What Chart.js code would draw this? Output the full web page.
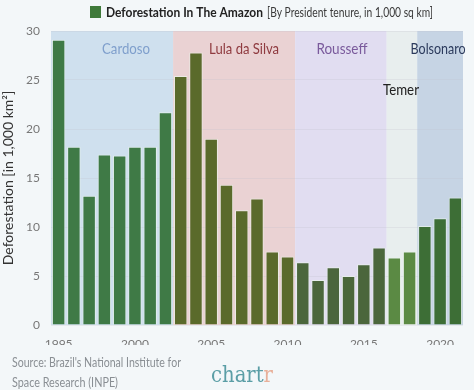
<!DOCTYPE html>
<html><head><meta charset="utf-8">
<script src="https://cdn.jsdelivr.net/npm/chart.js@4/dist/chart.umd.min.js"></script>
<style>html,body{margin:0;padding:0;background:#f3f7f9;}#w{width:474px;height:390px;position:relative;}</style>
</head><body><div id="w"><canvas id="c" width="474" height="390"></canvas></div>
<script>
const years = [1995,1996,1997,1998,1999,2000,2001,2002,2003,2004,2005,2006,2007,2008,2009,2010,2011,2012,2013,2014,2015,2016,2017,2018,2019,2020,2021];
const deforestation = [29.1,18.2,13.2,17.4,17.3,18.2,18.2,21.7,25.4,27.8,19.0,14.3,11.7,12.9,7.5,7.0,6.4,4.6,5.9,5.0,6.2,7.9,6.9,7.5,10.1,10.9,13.0];
const presidents = ["Cardoso","Lula da Silva","Rousseff","Temer","Bolsonaro"];
const termStart = [1995,2003,2011,2017,2019];
const termEnd = [2002,2010,2016,2018,2021];
const yTicks = [0,5,10,15,20,25,30];

const barColors = {"Cardoso":"#3f7a46","Lula da Silva":"#5a6a2b","Rousseff":"#4b663c","Temer":"#5b8a44","Bolsonaro":"#3d6e36"};
const bandColors = {"Cardoso":"#cfe0ee","Lula da Silva":"#ead2d3","Rousseff":"#e1ddf1","Temer":"#e8eeee","Bolsonaro":"#c6d4e4"};
const labelColors = {"Cardoso":"#7f9fcc","Lula da Silva":"#8f3a3f","Rousseff":"#7a5a9c","Temer":"#222222","Bolsonaro":"#2b3a5c"};
// label layout: [pixel offset from band centre, y value, target width]
const labelLayout = {"Cardoso":[14,28.2,48],"Lula da Silva":[10,28.2,70],"Rousseff":[1,28.2,51],"Temer":[-1,24.0,36],"Bolsonaro":[-2,28.2,55]};

function presidentOf(y){for(let i=0;i<presidents.length;i++){if(y>=termStart[i]&&y<=termEnd[i])return presidents[i];}return presidents[0];}

function fitText(ctx, text, x, y, font, width, align){
  ctx.save();
  ctx.font = font;
  const w = ctx.measureText(text).width;
  const s = width / w;
  let x0 = x;
  if(align==='center') x0 = x - width/2;
  ctx.textAlign='left';
  ctx.translate(x0, y);
  ctx.scale(s, 1);
  ctx.fillText(text, 0, 0);
  ctx.restore();
}

const bandPlugin = {
  id:'bands',
  beforeDraw(chart){
    const {ctx, scales:{x,y}} = chart;
    ctx.save();
    ctx.fillStyle='#f3f7f9';ctx.fillRect(0,0,chart.width,chart.height);
    const step = x.getPixelForValue(1)-x.getPixelForValue(0);
    presidents.forEach((p,i)=>{
      const x0 = x.getPixelForValue(years.indexOf(termStart[i]))-step/2;
      const x1 = x.getPixelForValue(years.indexOf(termEnd[i]))+step/2;
      const top = y.getPixelForValue(30), bot = y.getPixelForValue(0);
      ctx.fillStyle = bandColors[p];
      ctx.fillRect(x0, top, x1-x0, bot-top);
    });
    ctx.restore();
  },
  afterDatasetsDraw(chart){
    const {ctx, scales:{x,y}} = chart;
    ctx.save();
    ctx.textBaseline='middle';
    presidents.forEach((p,i)=>{
      const cx = (x.getPixelForValue(years.indexOf(termStart[i]))+x.getPixelForValue(years.indexOf(termEnd[i])))/2;
      const L = labelLayout[p];
      ctx.fillStyle = labelColors[p];
      fitText(ctx, p, cx+L[0], y.getPixelForValue(L[1]), '16px Lato', L[2], 'center');
    });
    // header legend
    ctx.fillStyle='#3f7a3a';ctx.fillRect(90,6,11,12);
    ctx.fillStyle='#222';
    fitText(ctx,'Deforestation In The Amazon',106,12,'bold 14px Lato',157,'left');
    ctx.fillStyle='#3a3a3a';
    fitText(ctx,'[By President tenure, in 1,000 sq km]',267,12.5,'13px Lato',166,'left');
    // source
    ctx.fillStyle='#8a8f94';
    fitText(ctx,"Source: Brazil's National Institute for",12,363,'13px Lato',169,'left');
    fitText(ctx,"Space Research (INPE)",12,383,'13px Lato',106,'left');
    ctx.font='23px "DejaVu Serif"';
    const tw = ctx.measureText('chartr').width, sc = 62/tw;
    ctx.save();
    ctx.translate(211,376);ctx.scale(sc,1);
    ctx.textAlign='left';
    ctx.fillStyle='#5b9ea6';
    ctx.fillText('chart',0,0);
    const cw = ctx.measureText('chart').width;
    ctx.fillStyle='#e8b09a';
    ctx.fillText('r',cw,0);
    ctx.restore();
    ctx.restore();
  }
};

new Chart(document.getElementById('c'),{
  type:'bar',
  data:{labels:years,datasets:[{
    label:'Deforestation In The Amazon',
    data:deforestation,
    backgroundColor:years.map(y=>barColors[presidentOf(y)]),
    borderColor:'rgba(235,245,235,0.7)',
    borderWidth:1,
    barPercentage:0.88,categoryPercentage:1
  }]},
  options:{
    responsive:false,animation:false,
    layout:{padding:{left:0,right:11,top:31,bottom:45}},
    plugins:{legend:{display:false},tooltip:{enabled:false}},
    scales:{
      x:{
        grid:{display:false},border:{display:false},
        ticks:{color:'#777',font:{family:'Lato',size:12},maxRotation:0,autoSkip:false,padding:4,
          callback:function(v,i){const yr=years[i];return yr%5===0?String(yr):'';}},
        afterFit(s){s.height=20;}
      },
      y:{
        min:0,max:30,
        afterBuildTicks(s){s.ticks=yTicks.map(v=>({value:v}));},
        grid:{color:'rgba(190,190,205,0.25)',drawTicks:false},border:{display:false},
        ticks:{color:'#777',font:{family:'Lato',size:12},padding:11},
        title:{display:true,text:'Deforestation [in 1,000 km²]',color:'#333',font:{family:'Lato',size:14},padding:{top:0,bottom:3}},
        afterFit(s){s.width=51;}
      }
    }
  },
  plugins:[bandPlugin]
});
</script></body></html>
